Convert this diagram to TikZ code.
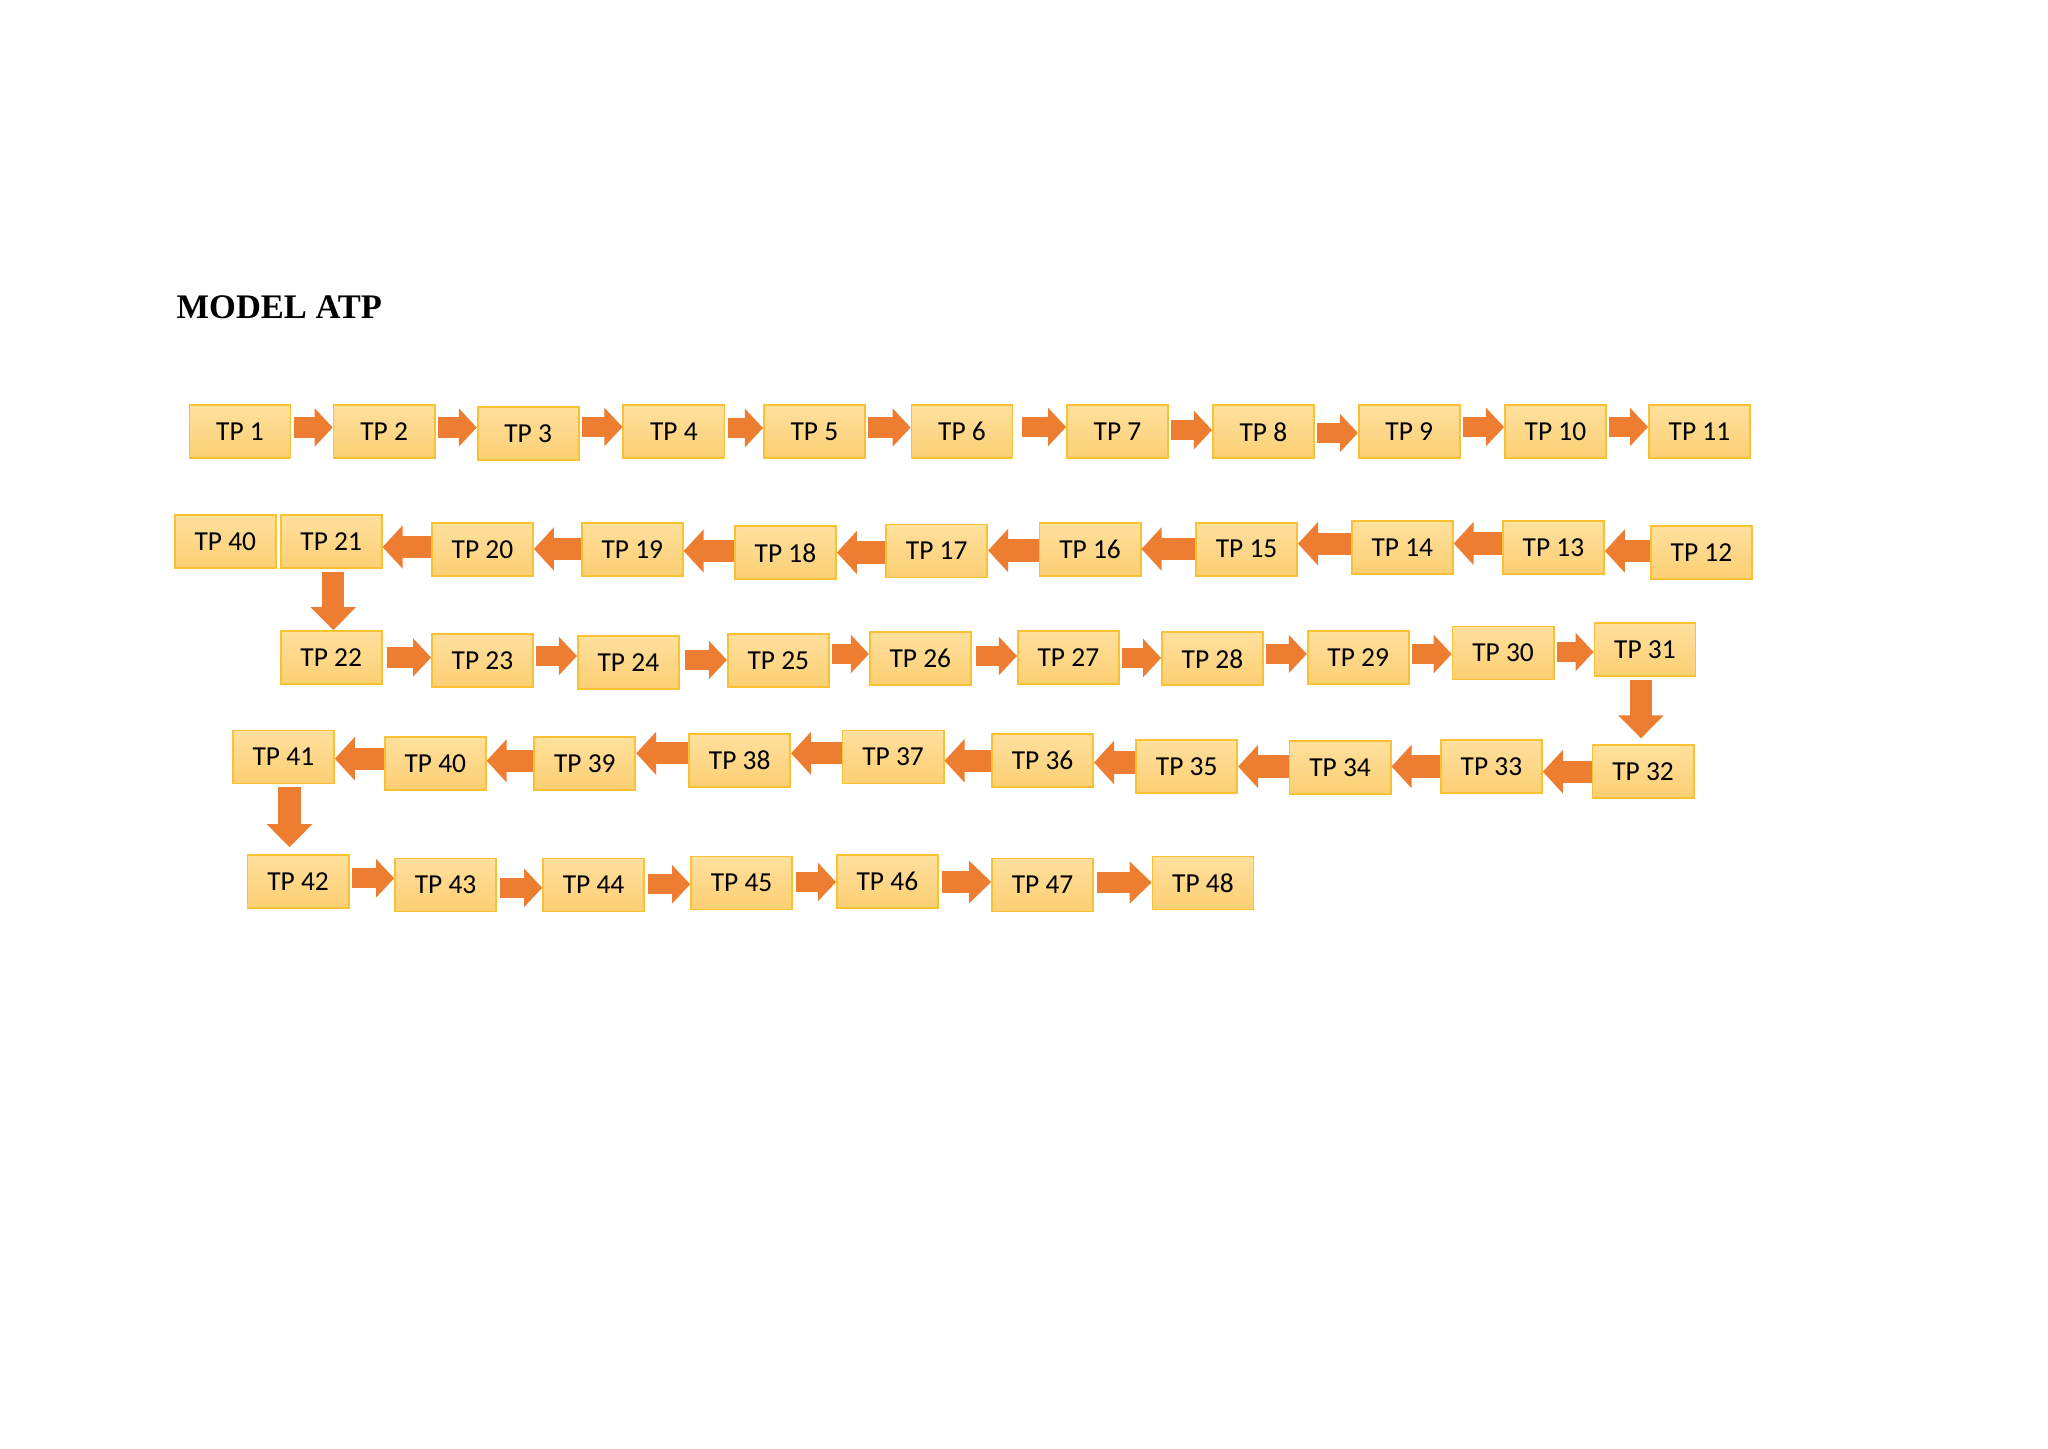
\documentclass[tikz,border=0pt]{standalone}
\usepackage{fontspec}
\newfontfamily\boxfont{Carlito}
\newfontfamily\titlefont{Liberation Serif}
\usetikzlibrary{arrows.meta}
\definecolor{boxtop}{RGB}{255,224,158}
\definecolor{boxbot}{RGB}{252,207,115}
\definecolor{boxline}{RGB}{250,194,50}
\definecolor{arrowc}{RGB}{237,125,49}
\tikzstyle{tpbox} = [rectangle, minimum width=1.01cm, minimum height=0.53cm, inner sep=0pt, text centered, draw=boxline, line width=0.5pt, top color=boxtop, bottom color=boxbot, font=\boxfont\fontsize{7.8}{9}\selectfont]
\tikzstyle{fwd} = [arrowc, line width=0.2cm, shorten <=0.025cm, -{Triangle[length=0.18cm, width=0.38cm, line width=0.6pt]}]
\tikzstyle{fwdlong} = [arrowc, line width=0.215cm, shorten <=0.03cm, -{Triangle[length=0.22cm, width=0.42cm, line width=0.6pt]}]
\tikzstyle{bwd} = [arrowc, line width=0.22cm, -{Triangle[length=0.2cm, width=0.43cm, line width=0.6pt]}]
\tikzstyle{godown} = [arrowc, line width=0.22cm, shorten <=0.03cm, -{Triangle[length=0.23cm, width=0.45cm, line width=0.6pt]}]
\begin{document}
\begin{tikzpicture}[x=0.01cm, y=-0.01cm]
\useasboundingbox (0,0) rectangle (2048,1449);
\node (title) [anchor=base west, inner sep=0pt, font=\titlefont\bfseries\fontsize{9.8}{12}\selectfont] at (176,319) {MODEL ATP};
% first row
\node (tp1) [tpbox] at (240,431.8) {TP 1};
\node (tp2) [tpbox] at (384.1,431.5) {TP 2};
\node (tp3) [tpbox] at (528.2,433.2) {TP 3};
\node (tp4) [tpbox] at (673.9,431.8) {TP 4};
\node (tp5) [tpbox] at (814.4,431.8) {TP 5};
\node (tp6) [tpbox] at (962,431.8) {TP 6};
\node (tp7) [tpbox] at (1117.5,431.8) {TP 7};
\node (tp8) [tpbox] at (1263.4,431.8) {TP 8};
\node (tp9) [tpbox] at (1409.3,431.8) {TP 9};
\node (tp10) [tpbox] at (1555.5,431.8) {TP 10};
\node (tp11) [tpbox] at (1699.4,431.8) {TP 11};
% second row
\node (tp40x) [tpbox] at (225.3,541.8) {TP 40};
\node (tp21) [tpbox] at (331.2,541.8) {TP 21};
\node (tp20) [tpbox] at (482.5,549.2) {TP 20};
\node (tp19) [tpbox] at (632.3,549.2) {TP 19};
\node (tp18) [tpbox] at (785.5,552.8) {TP 18};
\node (tp17) [tpbox] at (936.7,551) {TP 17};
\node (tp16) [tpbox] at (1090.1,549.2) {TP 16};
\node (tp15) [tpbox] at (1246.6,549.2) {TP 15};
\node (tp14) [tpbox] at (1402.3,547.8) {TP 14};
\node (tp13) [tpbox] at (1553.4,547.8) {TP 13};
\node (tp12) [tpbox] at (1701.4,552.8) {TP 12};
% third row
\node (tp22) [tpbox] at (331.2,657.5) {TP 22};
\node (tp23) [tpbox] at (482.5,660.5) {TP 23};
\node (tp24) [tpbox] at (628.4,662.2) {TP 24};
\node (tp25) [tpbox] at (778.3,660.5) {TP 25};
\node (tp26) [tpbox] at (920.3,658.5) {TP 26};
\node (tp27) [tpbox] at (1068.4,657.5) {TP 27};
\node (tp28) [tpbox] at (1212.5,658.8) {TP 28};
\node (tp29) [tpbox] at (1358.2,657.5) {TP 29};
\node (tp30) [tpbox] at (1503.1,653) {TP 30};
\node (tp31) [tpbox] at (1644.9,649.5) {TP 31};
% fourth row
\node (tp41) [tpbox] at (283.4,757) {TP 41};
\node (tp40) [tpbox] at (435.3,763.3) {TP 40};
\node (tp39) [tpbox] at (584.8,763.3) {TP 39};
\node (tp38) [tpbox] at (739.7,760.7) {TP 38};
\node (tp37) [tpbox] at (893.1,757) {TP 37};
\node (tp36) [tpbox] at (1042.6,760.7) {TP 36};
\node (tp35) [tpbox] at (1186.7,766.2) {TP 35};
\node (tp34) [tpbox] at (1340.1,767.8) {TP 34};
\node (tp33) [tpbox] at (1491.4,766.2) {TP 33};
\node (tp32) [tpbox] at (1643.1,771.7) {TP 32};
% fifth row
\node (tp42) [tpbox] at (298.1,881.2) {TP 42};
\node (tp43) [tpbox] at (445.6,885) {TP 43};
\node (tp44) [tpbox] at (593.6,885) {TP 44};
\node (tp45) [tpbox] at (741.6,883) {TP 45};
\node (tp46) [tpbox] at (887.4,881.2) {TP 46};
\node (tp47) [tpbox] at (1042.6,885) {TP 47};
\node (tp48) [tpbox] at (1203,882.9) {TP 48};
% arrows
\draw [fwd] (tp1.east |- 0,427.5) -- (tp2.west |- 0,427.5);
\draw [fwd] (tp2.east |- 0,427.5) -- (tp3.west |- 0,427.5);
\draw [fwd] (tp3.east |- 0,427) -- (tp4.west |- 0,427);
\draw [fwd] (tp4.east |- 0,428) -- (tp5.west |- 0,428);
\draw [fwd] (tp5.east |- 0,427.5) -- (tp6.west |- 0,427.5);
\draw [fwd, shorten <=0.09cm] (tp6.east |- 0,427) -- (tp7.west |- 0,427);
\draw [fwd] (tp7.east |- 0,430) -- (tp8.west |- 0,430);
\draw [fwd] (tp8.east |- 0,433) -- (tp9.west |- 0,433);
\draw [fwd] (tp9.east |- 0,427) -- (tp10.west |- 0,427);
\draw [fwd] (tp10.east |- 0,427) -- (tp11.west |- 0,427);
\draw [bwd] (tp12.west |- 0,551) -- (tp13.east |- 0,551);
\draw [bwd] (tp13.west |- 0,543.5) -- (tp14.east |- 0,543.5);
\draw [bwd] (tp14.west |- 0,543.7) -- (tp15.east |- 0,543.7);
\draw [bwd] (tp15.west |- 0,549) -- (tp16.east |- 0,549);
\draw [bwd] (tp16.west |- 0,550.5) -- (tp17.east |- 0,550.5);
\draw [bwd] (tp17.west |- 0,552.5) -- (tp18.east |- 0,552.5);
\draw [bwd] (tp18.west |- 0,551) -- (tp19.east |- 0,551);
\draw [bwd] (tp19.west |- 0,549) -- (tp20.east |- 0,549);
\draw [bwd] (tp20.west |- 0,547) -- (tp21.east |- 0,547);
\draw [godown] (tp21.south -| 333.3,0) -- (tp22.north -| 333.3,0);
\draw [fwd, shorten <=0.045cm] (tp22.east |- 0,657.5) -- (tp23.west |- 0,657.5);
\draw [fwd] (tp23.east |- 0,656) -- (tp24.west |- 0,656);
\draw [fwd, shorten <=0.05cm] (tp24.east |- 0,660) -- (tp25.west |- 0,660);
\draw [fwd] (tp25.east |- 0,654) -- (tp26.west |- 0,654);
\draw [fwd, shorten <=0.04cm] (tp26.east |- 0,656) -- (tp27.west |- 0,656);
\draw [fwd] (tp27.east |- 0,658) -- (tp28.west |- 0,658);
\draw [fwd] (tp28.east |- 0,654) -- (tp29.west |- 0,654);
\draw [fwd] (tp29.east |- 0,654) -- (tp30.west |- 0,654);
\draw [fwd] (tp30.east |- 0,652) -- (tp31.west |- 0,652);
\draw [godown, shorten >=0.06cm] (tp31.south -| 1641,0) -- (tp32.north -| 1641,0);
\draw [bwd] (tp32.west |- 0,771.7) -- (tp33.east |- 0,771.7);
\draw [bwd] (tp33.west |- 0,766.5) -- (tp34.east |- 0,766.5);
\draw [bwd] (tp34.west |- 0,766.5) -- (tp35.east |- 0,766.5);
\draw [bwd] (tp35.west |- 0,762.5) -- (tp36.east |- 0,762.5);
\draw [bwd] (tp36.west |- 0,760.8) -- (tp37.east |- 0,760.8);
\draw [bwd] (tp37.west |- 0,753.3) -- (tp38.east |- 0,753.3);
\draw [bwd] (tp38.west |- 0,753.3) -- (tp39.east |- 0,753.3);
\draw [bwd] (tp39.west |- 0,760.8) -- (tp40.east |- 0,760.8);
\draw [bwd] (tp40.west |- 0,758.7) -- (tp41.east |- 0,758.7);
\draw [godown, shorten >=0.066cm] (tp41.south -| 289.5,0) -- (tp42.north -| 289.5,0);
\draw [fwd] (tp42.east |- 0,878.3) -- (tp43.west |- 0,878.3);
\draw [fwd] (tp43.east |- 0,887.8) -- (tp44.west |- 0,887.8);
\draw [fwd] (tp44.east |- 0,884.3) -- (tp45.west |- 0,884.3);
\draw [fwd] (tp45.east |- 0,882) -- (tp46.west |- 0,882);
\draw [fwdlong] (tp46.east |- 0,882) -- (tp47.west |- 0,882);
\draw [fwdlong] (tp47.east |- 0,882.5) -- (tp48.west |- 0,882.5);
\end{tikzpicture}
\end{document}
